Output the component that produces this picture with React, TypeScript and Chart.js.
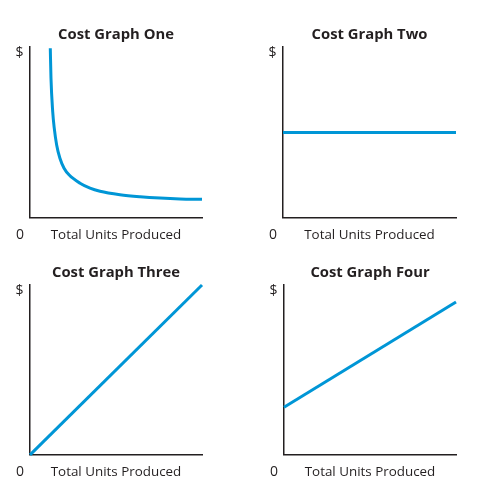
import { useEffect, useRef } from "react"
import { Chart, registerables } from "chart.js"

Chart.register(...registerables)

// Cost Graph One: curve falling towards a floor
const oneUnits = [11.8, 12.2, 13.2, 14.1, 15.5, 17.4, 19.8, 22.8, 29.1, 34.9, 40.7, 52.3, 64, 75.6, 87.2, 100]
const oneCost = [99.2, 81.7, 62.2, 52.5, 42.7, 34.9, 29.1, 25.1, 20.3, 17.4, 15.6, 13.6, 12.4, 11.6, 11.1, 10.9]

// Cost Graph Two: flat
const twoUnits = [0, 100]
const twoCost = [50, 50]

// Cost Graph Three: from the origin
const threeUnits = [0, 100]
const threeCost = [0, 100]

// Cost Graph Four: starts above zero
const fourUnits = [0, 100]
const fourCost = [28, 90]

const titles = ["Cost Graph One", "Cost Graph Two", "Cost Graph Three", "Cost Graph Four"]
const xLabel = "Total Units Produced"
const yCorner = "$"
const xCorner = "0"

const FONT = "'Open Sans', 'Noto Sans', sans-serif"
const BLUE = "#0096d6"
const INK = "#231f20"

const cornerLabels = {
  id: "cornerLabels",
  afterDraw(chart: Chart) {
    const { ctx, chartArea } = chart
    ctx.save()
    ctx.fillStyle = INK
    ctx.font = `14px ${FONT}`
    ctx.textAlign = "center"
    ctx.textBaseline = "middle"
    ctx.fillText(yCorner, chartArea.left - 10.5, chartArea.top + 6)
    ctx.fillText(xCorner, chartArea.left - 10, chartArea.bottom + 17)
    ctx.restore()
  },
}

type Props = {
  title: string
  units: number[]
  cost: number[]
  curved?: boolean
  box: { left: number; top: number; width: number; height: number }
  pad: { left: number; right: number; top: number; bottom: number }
}

function CostGraph({ title, units, cost, curved, box, pad }: Props) {
  const chartRef = useRef<HTMLCanvasElement>(null)
  const chartInstance = useRef<Chart | null>(null)

  useEffect(() => {
    if (!chartRef.current) return
    if (chartInstance.current) chartInstance.current.destroy()
    const ctx = chartRef.current.getContext("2d")
    if (!ctx) return

    chartInstance.current = new Chart(ctx, {
      type: "line",
      data: {
        datasets: [
          {
            data: units.map((u, i) => ({ x: u, y: cost[i] })),
            borderColor: BLUE,
            borderWidth: 3,
            pointRadius: 0,
            fill: false,
            cubicInterpolationMode: curved ? "monotone" : "default",
            clip: false,
          },
        ],
      },
      options: {
        responsive: false,
        animation: false,
        layout: { padding: pad },
        plugins: {
          legend: { display: false },
          tooltip: { enabled: false },
          title: {
            display: true,
            text: title,
            color: INK,
            font: { family: FONT, size: 14.8, weight: "bold", lineHeight: 1.2 },
            padding: { top: 0, bottom: 3 },
          },
        },
        scales: {
          x: {
            type: "linear",
            min: 0,
            max: 100,
            grid: { display: false, drawTicks: false },
            ticks: { display: false },
            border: { display: true, color: INK, width: 1.5 },
            title: {
              display: true,
              text: xLabel,
              color: INK,
              font: { family: FONT, size: 13.4, lineHeight: 1.2 },
              padding: { top: 9.5, bottom: 6.5 },
            },
          },
          y: {
            type: "linear",
            min: 0,
            max: 100,
            grid: { display: false, drawTicks: false },
            ticks: { display: false },
            border: { display: true, color: INK, width: 1.5 },
          },
        },
      },
      plugins: [cornerLabels],
    })

    return () => {
      if (chartInstance.current) {
        chartInstance.current.destroy()
        chartInstance.current = null
      }
    }
  }, [])

  return (
    <canvas
      ref={chartRef}
      width={box.width}
      height={box.height}
      style={{ position: "absolute", left: box.left, top: box.top, width: box.width, height: box.height }}
    />
  )
}

export default function App() {
  return (
    <div style={{ position: "absolute", left: 0, top: 0, width: 477, height: 499, background: "#fff", overflow: "hidden" }}>
      <CostGraph
        title={titles[0]}
        units={oneUnits}
        cost={oneCost}
        curved
        box={{ left: 0, top: 0, width: 240, height: 250 }}
        pad={{ left: 30, right: 38, top: 26.2, bottom: 0 }}
      />
      <CostGraph
        title={titles[1]}
        units={twoUnits}
        cost={twoCost}
        box={{ left: 240, top: 0, width: 237, height: 250 }}
        pad={{ left: 43, right: 21, top: 26.2, bottom: 0 }}
      />
      <CostGraph
        title={titles[2]}
        units={threeUnits}
        cost={threeCost}
        box={{ left: 0, top: 250, width: 240, height: 249 }}
        pad={{ left: 30, right: 38, top: 14.2, bottom: 12 }}
      />
      <CostGraph
        title={titles[3]}
        units={fourUnits}
        cost={fourCost}
        box={{ left: 240, top: 250, width: 237, height: 249 }}
        pad={{ left: 44, right: 21, top: 14.2, bottom: 12 }}
      />
    </div>
  )
}
